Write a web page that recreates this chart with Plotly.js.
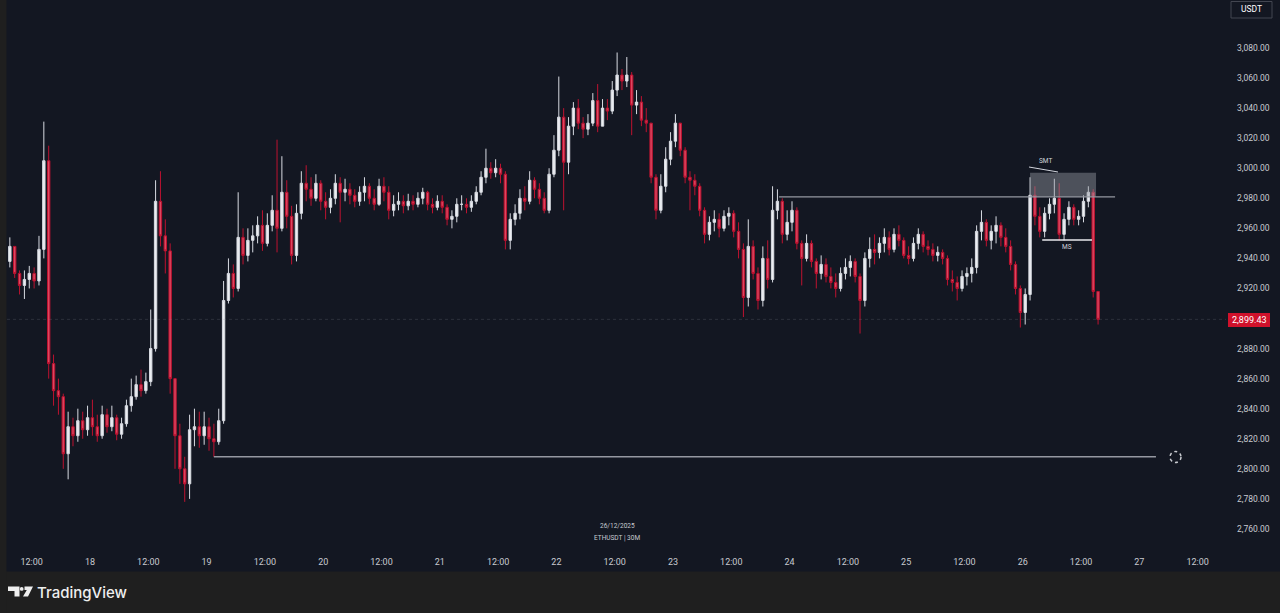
<!DOCTYPE html>
<html>
<head>
<meta charset="utf-8">
<script src="https://cdn.plot.ly/plotly-3.0.1.min.js"></script>
<style>
  html, body { margin: 0; padding: 0; background: #1f1f1f; }
  #chart { width: 1280px; height: 613px; }
</style>
</head>
<body>
<div id="chart"></div>
<script>
// ---- ETHUSDT hourly candles (first candle opens Dec 17 07:00 UTC) ----
const firstOpen = 2938;
const close17 = [2948, 2930, 2922, 2926, 2930, 2925, 2946, 3005, 2870, 2852, 2848, 2810, 2828, 2822, 2832, 2826, 2834];
const high17  = [2954, 2948, 2932, 2932, 2935, 2934, 2955, 3031, 3015, 2876, 2860, 2850, 2838, 2834, 2840, 2838, 2842];
const low17   = [2934, 2927, 2916, 2913, 2920, 2920, 2922, 2940, 2860, 2842, 2836, 2800, 2793, 2815, 2818, 2820, 2822];

const close18 = [2828, 2822, 2836, 2828, 2834, 2823, 2830, 2842, 2848, 2856, 2852, 2858, 2880, 2978, 2955, 2945, 2860, 2822, 2800, 2790, 2826, 2828, 2822, 2828];
const high18  = [2846, 2836, 2842, 2840, 2842, 2836, 2834, 2846, 2860, 2862, 2866, 2864, 2906, 2992, 2998, 2966, 2950, 2860, 2830, 2808, 2836, 2840, 2838, 2838];
const low18   = [2822, 2818, 2820, 2824, 2825, 2819, 2820, 2828, 2838, 2846, 2848, 2850, 2855, 2878, 2948, 2930, 2850, 2800, 2790, 2778, 2780, 2815, 2814, 2816];

const close19 = [2820, 2818, 2832, 2912, 2930, 2920, 2954, 2942, 2952, 2955, 2962, 2950, 2962, 2972, 2960, 2984, 2968, 2942, 2970, 2990, 2986, 2980, 2990, 2978];
const high19  = [2834, 2830, 2840, 2925, 2940, 2936, 2984, 2960, 2960, 2962, 2968, 2972, 2970, 2982, 3019, 3008, 2992, 2975, 2976, 2998, 3002, 2994, 2996, 2992];
const low19   = [2812, 2808, 2816, 2830, 2910, 2914, 2918, 2936, 2938, 2944, 2950, 2945, 2948, 2958, 2944, 2958, 2960, 2936, 2938, 2966, 2978, 2975, 2978, 2972];

const close20 = [2974, 2980, 2990, 2984, 2986, 2982, 2978, 2984, 2988, 2980, 2976, 2988, 2984, 2972, 2976, 2978, 2975, 2978, 2976, 2980, 2984, 2976, 2974, 2978];
const high20  = [2984, 2986, 2996, 2994, 2993, 2990, 2986, 2988, 2994, 2990, 2986, 2993, 2994, 2988, 2982, 2984, 2982, 2983, 2982, 2984, 2987, 2985, 2980, 2982];
const low20   = [2966, 2970, 2976, 2964, 2978, 2976, 2974, 2975, 2978, 2976, 2972, 2975, 2978, 2966, 2968, 2972, 2970, 2972, 2972, 2974, 2976, 2972, 2970, 2972];

const close21 = [2974, 2966, 2968, 2976, 2976, 2974, 2978, 2984, 2994, 3000, 2997, 3000, 2996, 2952, 2966, 2970, 2980, 2978, 2992, 2986, 2980, 2972, 2996, 3012];
const high21  = [2982, 2976, 2972, 2980, 2982, 2980, 2982, 2988, 2998, 3013, 3004, 3006, 3003, 2998, 2970, 2976, 2986, 2988, 2998, 2994, 2990, 2984, 3000, 3022];
const low21   = [2970, 2962, 2960, 2964, 2972, 2970, 2971, 2976, 2982, 2990, 2993, 2994, 2990, 2946, 2946, 2962, 2966, 2972, 2976, 2980, 2976, 2970, 2970, 2994];

const close22 = [3034, 3004, 3028, 3040, 3030, 3026, 3030, 3045, 3028, 3040, 3038, 3052, 3062, 3058, 3062, 3042, 3044, 3032, 3030, 2994, 2972, 2988, 3006, 3018];
const high22  = [3061, 3040, 3034, 3044, 3046, 3034, 3036, 3050, 3056, 3046, 3046, 3058, 3077, 3066, 3074, 3064, 3052, 3048, 3040, 3026, 2996, 2996, 3014, 3024];
const low22   = [3008, 2972, 2996, 3022, 3026, 3020, 3022, 3028, 3024, 3030, 3032, 3036, 3048, 3052, 3054, 3022, 3036, 3028, 3024, 2990, 2966, 2970, 2984, 3002];

const close23 = [3030, 3012, 2994, 2992, 2988, 2972, 2956, 2964, 2966, 2960, 2968, 2970, 2958, 2946, 2914, 2948, 2930, 2912, 2940, 2926, 2972, 2978, 2956, 2964];
const high23  = [3036, 3030, 3014, 2998, 2996, 2990, 2974, 2968, 2972, 2970, 2972, 2974, 2972, 2964, 2950, 2966, 2952, 2934, 2948, 2952, 2988, 2986, 2980, 2972];
const low23   = [3014, 3008, 2990, 2972, 2982, 2968, 2950, 2952, 2958, 2954, 2958, 2962, 2954, 2940, 2901, 2908, 2926, 2906, 2908, 2920, 2924, 2966, 2950, 2952];

const close24 = [2972, 2950, 2940, 2950, 2938, 2930, 2936, 2928, 2924, 2920, 2930, 2934, 2938, 2928, 2912, 2940, 2946, 2944, 2950, 2954, 2946, 2956, 2952, 2942];
const high24  = [2978, 2974, 2952, 2956, 2952, 2940, 2942, 2940, 2934, 2930, 2934, 2940, 2942, 2940, 2930, 2944, 2954, 2956, 2954, 2960, 2958, 2960, 2962, 2954];
const low24   = [2958, 2946, 2922, 2938, 2934, 2920, 2926, 2924, 2920, 2914, 2918, 2926, 2928, 2924, 2890, 2908, 2934, 2936, 2940, 2944, 2942, 2944, 2948, 2940];

const close25 = [2940, 2950, 2956, 2948, 2946, 2942, 2944, 2940, 2926, 2924, 2920, 2928, 2930, 2934, 2958, 2964, 2952, 2958, 2962, 2954, 2948, 2936, 2920, 2904];
const high25  = [2948, 2954, 2960, 2958, 2952, 2950, 2948, 2946, 2942, 2932, 2928, 2932, 2934, 2940, 2962, 2972, 2966, 2962, 2968, 2964, 2960, 2952, 2938, 2922];
const low25   = [2936, 2938, 2946, 2944, 2942, 2938, 2938, 2936, 2922, 2918, 2912, 2918, 2922, 2924, 2930, 2952, 2948, 2946, 2950, 2948, 2944, 2932, 2916, 2894];

const close26 = [2916, 2982, 2968, 2958, 2970, 2976, 2980, 2956, 2966, 2974, 2966, 2968, 2978, 2984, 2918, 2899.43];
const high26  = [2920, 2994, 2988, 2974, 2974, 2980, 2993, 2990, 2970, 2978, 2976, 2972, 2982, 2988, 2986, 2918];
const low26   = [2896, 2912, 2962, 2954, 2954, 2966, 2970, 2952, 2952, 2962, 2962, 2962, 2964, 2974, 2914, 2896];

// axis labels (2,900.00 sits under the last-price label in the picture)
const xTickTimes = ['2025-12-17 12:00','2025-12-18 00:00','2025-12-18 12:00','2025-12-19 00:00','2025-12-19 12:00','2025-12-20 00:00','2025-12-20 12:00','2025-12-21 00:00','2025-12-21 12:00','2025-12-22 00:00','2025-12-22 12:00','2025-12-23 00:00','2025-12-23 12:00','2025-12-24 00:00','2025-12-24 12:00','2025-12-25 00:00','2025-12-25 12:00','2025-12-26 00:00','2025-12-26 12:00','2025-12-27 00:00','2025-12-27 12:00'];
const xTickLabels = ['12:00','18','12:00','19','12:00','20','12:00','21','12:00','22','12:00','23','12:00','24','12:00','25','12:00','26','12:00','27','12:00'];
const yTickValues = [2760, 2780, 2800, 2820, 2840, 2860, 2880, 2920, 2940, 2960, 2980, 3000, 3020, 3040, 3060, 3080];

// drawings on the chart
const levelLow = {price: 2808, from: '2025-12-19 01:30', to: '2025-12-27 03:25'};
const levelHigh = {price: 2981, from: '2025-12-23 21:50', to: '2025-12-26 19:00'};
const boxZone = {from: '2025-12-26 01:30', to: '2025-12-26 15:05', low: 2981, high: 2997};
const smtLine = {x: ['2025-12-26 01:17', '2025-12-26 07:15'], y: [3000.8, 2997.5], labelX: '2025-12-26 04:35', labelY: 3004.5};
const msLine = {x: ['2025-12-26 04:00', '2025-12-26 14:15'], y: 2952.3, labelX: '2025-12-26 09:05', labelY: 2947.3};
const lastPrice = 2899.43;

// ---- build series ----
const closes = [].concat(close17, close18, close19, close20, close21, close22, close23, close24, close25, close26);
const highs  = [].concat(high17, high18, high19, high20, high21, high22, high23, high24, high25, high26);
const lows   = [].concat(low17, low18, low19, low20, low21, low22, low23, low24, low25, low26);
const opens = closes.map((c, i) => i === 0 ? firstOpen : closes[i - 1]);
const t0 = Date.UTC(2025, 11, 17, 7, 30);
const times = closes.map((c, i) => new Date(t0 + i * 3600000).toISOString().slice(0, 16).replace('T', ' '));
const hi = highs.map((h, i) => Math.max(h, opens[i], closes[i]));
const lo = lows.map((l, i) => Math.min(l, opens[i], closes[i]));

// pixel helpers for the frame (plot area: x 7..1226, y 0..548)
const L = 7, R = 54, T = 0, B = 65, W = 1280, H = 613;
const pw = W - L - R, ph = H - T - B;
const px = x => (x - L) / pw;
const py = y => (ph + T - y) / ph;

const trace = {
  type: 'candlestick',
  x: times, open: opens, high: hi, low: lo, close: closes,
  increasing: {line: {color: '#d8dbe2', width: 1}, fillcolor: '#eceef2'},
  decreasing: {line: {color: '#bd1230', width: 1}, fillcolor: '#dc4760'},
  whiskerwidth: 0,
  hoverinfo: 'skip',
  showlegend: false
};

const grey = '#9598a1';
const logoPts = (pts) => 'M' + pts.map(p => px(p[0]) + ',' + py(p[1])).join(' L') + ' Z';

const shapes = [
  // footer and left frame
  {type: 'rect', xref: 'paper', yref: 'paper', x0: px(-5), x1: px(1290), y0: py(625), y1: py(571.5), fillcolor: '#1f1f1f', line: {width: 0}, layer: 'below'},
  {type: 'rect', xref: 'paper', yref: 'paper', x0: px(-5), x1: px(6.5), y0: py(625), y1: py(-5), fillcolor: '#1f1f1f', line: {width: 0}, layer: 'below'},
  // current price dotted line
  {type: 'line', xref: 'paper', yref: 'y', x0: 0, x1: 1, y0: lastPrice, y1: lastPrice, line: {color: 'rgba(150,152,160,0.2)', width: 1, dash: 'dot'}},
  // levels
  {type: 'line', xref: 'x', yref: 'y', x0: levelLow.from, x1: levelLow.to, y0: levelLow.price, y1: levelLow.price, line: {color: grey, width: 1.5}},
  {type: 'line', xref: 'x', yref: 'y', x0: levelHigh.from, x1: levelHigh.to, y0: levelHigh.price, y1: levelHigh.price, line: {color: grey, width: 1.2}},
  // box
  {type: 'rect', xref: 'x', yref: 'y', x0: boxZone.from, x1: boxZone.to, y0: boxZone.low, y1: boxZone.high, fillcolor: 'rgba(149,152,161,0.45)', line: {width: 0}},
  // SMT and MS lines
  {type: 'line', xref: 'x', yref: 'y', x0: smtLine.x[0], x1: smtLine.x[1], y0: smtLine.y[0], y1: smtLine.y[1], line: {color: '#d1d4dc', width: 1}},
  {type: 'line', xref: 'x', yref: 'y', x0: msLine.x[0], x1: msLine.x[1], y0: msLine.y, y1: msLine.y, line: {color: '#e8e8ec', width: 1.5}},
  // spinner
  {type: 'circle', xref: 'paper', yref: 'paper', x0: px(1170), x1: px(1181), y0: py(462.5), y1: py(451.5), line: {color: '#c8cad0', width: 1.5, dash: 'dot'}},
  // price label box
  {type: 'rect', xref: 'paper', yref: 'paper', x0: px(1228), x1: px(1270), y0: py(327), y1: py(313), fillcolor: '#d0112b', line: {width: 0}},
  // USDT box
  {type: 'rect', xref: 'paper', yref: 'paper', x0: px(1231), x1: px(1272), y0: py(18), y1: py(1.5), fillcolor: '#131722', line: {color: '#434651', width: 1}},
  // TradingView logo
  {type: 'path', xref: 'paper', yref: 'paper', path: logoPts([[8,586.5],[19.5,586.5],[19.5,596.5],[14.5,596.5],[14.5,591],[8,591]]), fillcolor: '#eeeeee', line: {width: 0}},
  {type: 'circle', xref: 'paper', yref: 'paper', x0: px(19.8), x1: px(23.6), y0: py(590.8), y1: py(587), fillcolor: '#eeeeee', line: {width: 0}},
  {type: 'path', xref: 'paper', yref: 'paper', path: logoPts([[24.5,586.5],[33,586.5],[28,596.5],[23,596.5],[26.8,590],[24.5,590]]), fillcolor: '#eeeeee', line: {width: 0}}
];

const ann = (o) => Object.assign({showarrow: false, xanchor: 'center', yanchor: 'middle'}, o);
const annotations = [
  ann({xref: 'x', yref: 'y', x: smtLine.labelX, y: smtLine.labelY, text: 'SMT', font: {size: 6.5, color: '#d1d4dc', family: 'Roboto'}}),
  ann({xref: 'x', yref: 'y', x: msLine.labelX, y: msLine.labelY, text: 'MS', font: {size: 6.5, color: '#d1d4dc', family: 'Roboto'}}),
  ann({xref: 'paper', yref: 'paper', x: px(1249), y: py(320), text: lastPrice.toLocaleString('en-US', {minimumFractionDigits: 2}), font: {size: 9, color: '#ffffff', family: 'Roboto'}}),
  ann({xref: 'paper', yref: 'paper', x: px(1251.5), y: py(9.5), text: 'USDT', font: {size: 8.5, color: '#ffffff', family: 'Roboto'}}),
  ann({xref: 'paper', yref: 'paper', x: px(617), y: py(526), text: '26/12/2025', font: {size: 6.5, color: '#c8cad0', family: 'Roboto'}}),
  ann({xref: 'paper', yref: 'paper', x: px(617), y: py(538), text: 'ETHUSDT | 30M', font: {size: 6.5, color: '#c8cad0', family: 'Roboto'}}),
  ann({xref: 'paper', yref: 'paper', x: px(34.5), y: py(592), xanchor: 'left', text: 'TradingView', font: {size: 15, color: '#eeeeee', family: 'Inter', weight: 500}})
];

const layout = {
  width: W, height: H,
  margin: {l: L, r: R, t: T, b: B, pad: 0},
  paper_bgcolor: '#131722',
  plot_bgcolor: '#131722',
  showlegend: false,
  xaxis: {
    type: 'date',
    range: ['2025-12-17 06:55', '2025-12-27 17:50'],
    rangeslider: {visible: false},
    tickmode: 'array', tickvals: xTickTimes, ticktext: xTickLabels,
    showgrid: false, zeroline: false, showline: false,
    ticks: '', ticklabelstandoff: 7,
    tickfont: {size: 9, color: '#c8cad0', family: 'Roboto'},
    fixedrange: true
  },
  yaxis: {
    side: 'right',
    range: [2747.3, 3111.94],
    tickmode: 'array', tickvals: yTickValues,
    tickformat: ',.2f',
    showgrid: false, zeroline: false, showline: false,
    ticks: '', ticklabelstandoff: 10,
    tickfont: {size: 8.5, color: '#c8cad0', family: 'Roboto'},
    fixedrange: true
  },
  shapes: shapes,
  annotations: annotations
};

Plotly.newPlot('chart', [trace], layout, {displayModeBar: false, staticPlot: true});
</script>
</body>
</html>
